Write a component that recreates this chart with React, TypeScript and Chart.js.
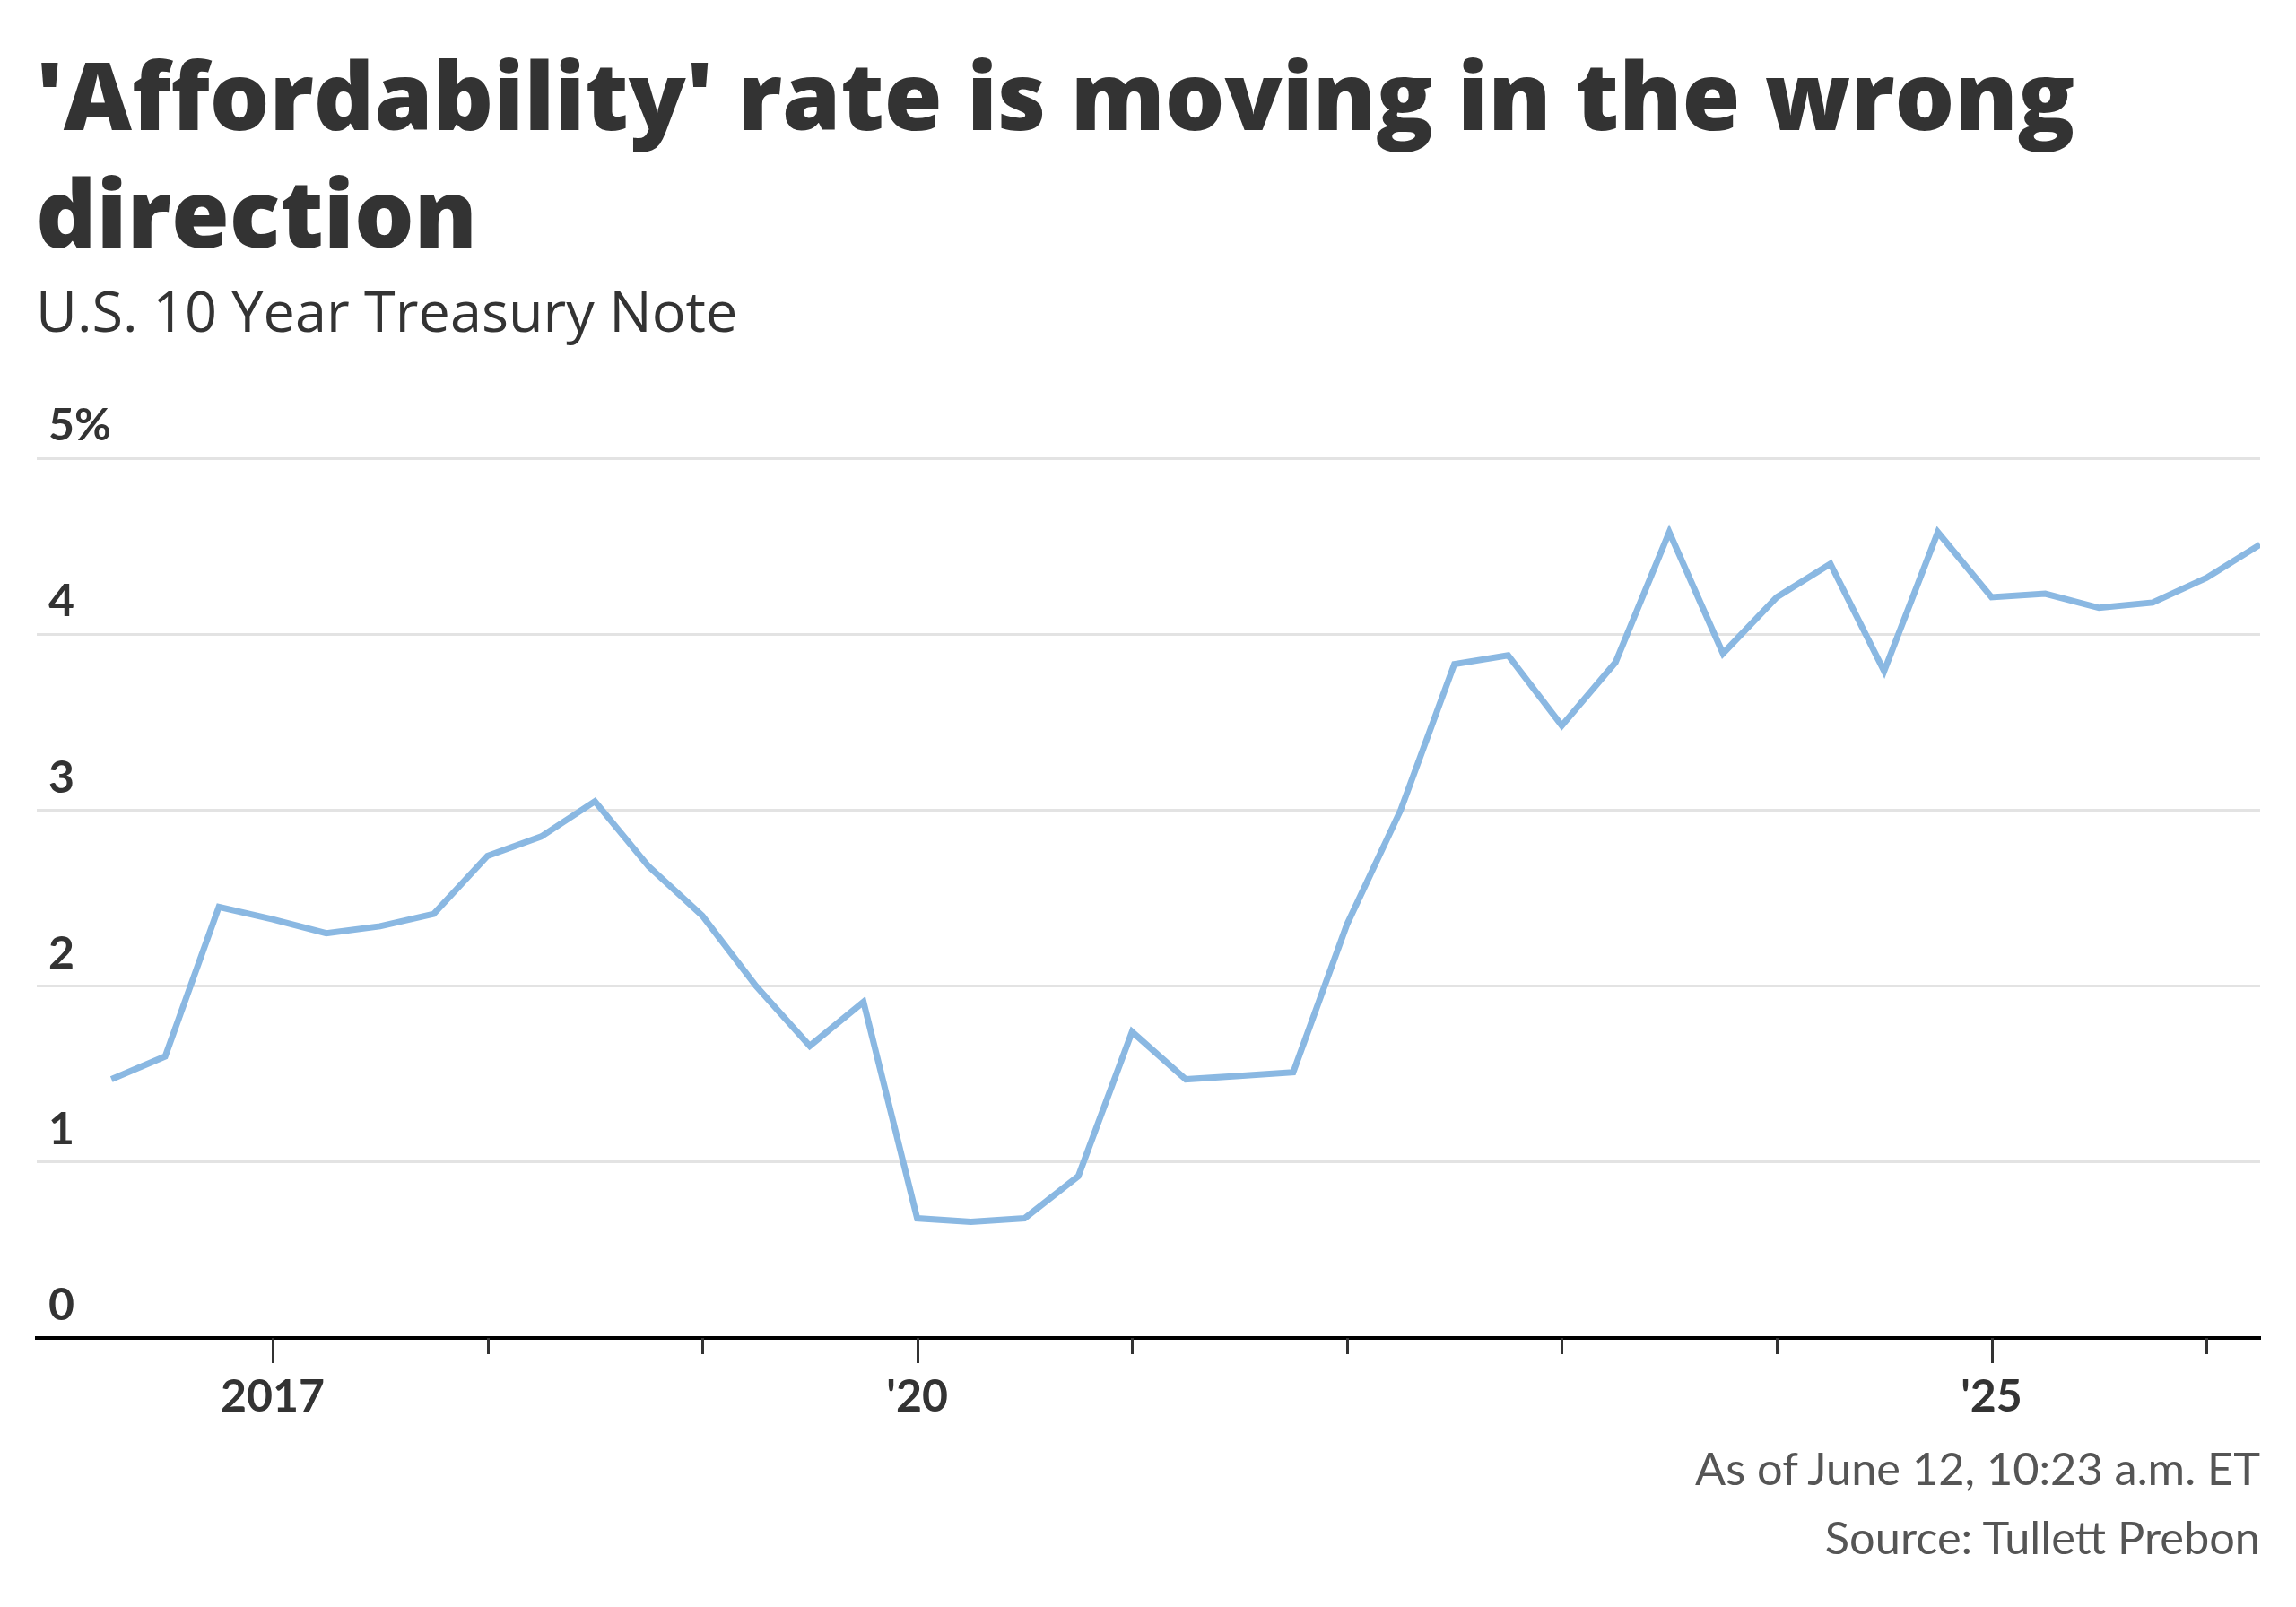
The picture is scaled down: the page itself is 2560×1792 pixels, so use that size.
import React, { useEffect, useRef } from 'react';
import { Chart, registerables } from 'chart.js';

Chart.register(...registerables);

// Quarter-end observations (U.S. 10-year Treasury yield, %)
const quarters: string[] = [
  'Jun 2016', 'Sep 2016', 'Dec 2016',
  'Mar 2017', 'Jun 2017', 'Sep 2017', 'Dec 2017',
  'Mar 2018', 'Jun 2018', 'Sep 2018', 'Dec 2018',
  'Mar 2019', 'Jun 2019', 'Sep 2019', 'Dec 2019',
  'Mar 2020', 'Jun 2020', 'Sep 2020', 'Dec 2020',
  'Mar 2021', 'Jun 2021', 'Sep 2021', 'Dec 2021',
  'Mar 2022', 'Jun 2022', 'Sep 2022', 'Dec 2022',
  'Mar 2023', 'Jun 2023', 'Sep 2023', 'Dec 2023',
  'Mar 2024', 'Jun 2024', 'Sep 2024', 'Dec 2024',
  'Mar 2025', 'Jun 2025', 'Sep 2025', 'Dec 2025',
  'Mar 2026', 'Jun 2026',
];

const yields: number[] = [
  1.47, 1.60, 2.45,
  2.38, 2.30, 2.34, 2.41,
  2.74, 2.85, 3.05, 2.68,
  2.40, 2.00, 1.66, 1.91,
  0.68, 0.66, 0.68, 0.92,
  1.74, 1.47, 1.49, 1.51,
  2.35, 3.00, 3.83, 3.88,
  3.48, 3.84, 4.58, 3.89,
  4.21, 4.40, 3.79, 4.58,
  4.21, 4.23, 4.15, 4.18,
  4.32, 4.51,
];

// x-axis ticks: positions (as quarter index) and labels
const xTickIndex: number[] = [3, 7, 11, 15, 19, 23, 27, 31, 35, 39];
const xTickLabels: string[] = ['2017', '', '', "'20", '', '', '', '', "'25", ''];

// y-axis ticks
const yTicks: number[] = [0, 1, 2, 3, 4, 5];
const yTickLabels: string[] = ['0', '1', '2', '3', '4', '5%'];

const TITLE_LINES: string[] = ["'Affordability' rate is moving in the wrong", 'direction'];
const SUBTITLE = 'U.S. 10 Year Treasury Note';
const NOTE = 'As of June 12, 10:23 a.m. ET';
const SOURCE = 'Source: Tullett Prebon';

const FONT = "Lato, 'Noto Sans', sans-serif";
const HEAD_FONT = "'Open Sans', Lato, sans-serif";

const tickMarks = {
  id: 'tickMarks',
  afterDraw(chart: any) {
    const s = chart.scales.x;
    const ctx = chart.ctx;
    const y0 = chart.chartArea.bottom;
    ctx.save();
    ctx.strokeStyle = '#333333';
    ctx.lineWidth = 3;
    xTickIndex.forEach((v, i) => {
      const px = Math.round(s.getPixelForValue(v)) + 0.5;
      const len = xTickLabels[i] ? 28 : 18;
      ctx.beginPath();
      ctx.moveTo(px, y0);
      ctx.lineTo(px, y0 + len);
      ctx.stroke();
    });
    ctx.restore();
  },
};

export default function App() {
  const canvasRef = useRef<HTMLCanvasElement | null>(null);

  useEffect(() => {
    document.body.style.margin = '0';
    const canvas = canvasRef.current;
    if (!canvas) return;
    const chart = new Chart(canvas, {
      type: 'line',
      data: {
        labels: quarters,
        datasets: [
          {
            label: '10-year yield',
            data: yields.map((y, i) => ({ x: i, y })),
            borderColor: '#8ab8e2',
            borderWidth: 7,
            pointRadius: 0,
            tension: 0,
            fill: false,
            borderJoinStyle: 'miter',
          },
        ],
      },
      options: {
        animation: false,
        responsive: false,
        devicePixelRatio: 1,
        events: [],
        layout: { padding: { left: 41, right: 40, top: 511, bottom: 200 } },
        plugins: { legend: { display: false }, tooltip: { enabled: false } },
        scales: {
          x: {
            type: 'linear',
            min: -1.39,
            max: 40,
            afterBuildTicks: (scale: any) => {
              scale.ticks = xTickIndex.map((v) => ({ value: v }));
            },
            afterFit: (scale: any) => {
              scale.height = 100;
            },
            grid: { display: false, drawTicks: false },
            border: { display: true, color: '#000000', width: 4 },
            ticks: {
              autoSkip: false,
              maxRotation: 0,
              padding: 36,
              color: '#333333',
              font: { family: FONT, size: 50, weight: 'bold' },
              callback: (_v: any, index: number) => xTickLabels[index] ?? '',
            },
          },
          y: {
            type: 'linear',
            min: 0,
            max: 5,
            afterBuildTicks: (scale: any) => {
              scale.ticks = yTicks.map((v) => ({ value: v }));
            },
            afterFit: (scale: any) => {
              scale.width = 0;
            },
            grid: {
              drawTicks: false,
              color: '#e3e3e3',
              lineWidth: 3,
            },
            border: { display: false },
            ticks: {
              mirror: true,
              padding: 13,
              labelOffset: -36,
              color: '#333333',
              font: { family: FONT, size: 50, weight: 'bold' },
              callback: (_v: any, index: number) => yTickLabels[index] ?? '',
            },
          },
        },
      },
      plugins: [tickMarks],
    });
    return () => chart.destroy();
  }, []);

  return (
    <div style={{ position: 'relative', width: 2560, height: 1792, background: '#ffffff', overflow: 'hidden' }}>
      <div
        style={{
          position: 'absolute',
          left: 40,
          top: 39,
          fontFamily: HEAD_FONT,
          fontWeight: 800,
          fontSize: 105,
          lineHeight: '131px',
          color: '#333333',
          whiteSpace: 'nowrap',
        }}
      >
        {TITLE_LINES.map((l, i) => (
          <div key={i}>{l}</div>
        ))}
      </div>
      <div
        style={{
          position: 'absolute',
          left: 40,
          top: 309,
          fontFamily: HEAD_FONT,
          fontWeight: 400,
          fontSize: 63,
          lineHeight: '74px',
          color: '#333333',
          whiteSpace: 'nowrap',
        }}
      >
        {SUBTITLE}
      </div>
      <canvas
        ref={canvasRef}
        width={2560}
        height={1792}
        style={{ position: 'absolute', left: 0, top: 0, width: 2560, height: 1792 }}
      />
      <div
        style={{
          position: 'absolute',
          right: 40,
          top: 1598,
          fontFamily: FONT,
          fontWeight: 400,
          fontSize: 50.5,
          lineHeight: '77px',
          color: '#555555',
          textAlign: 'right',
          whiteSpace: 'nowrap',
        }}
      >
        <div>{NOTE}</div>
        <div>{SOURCE}</div>
      </div>
    </div>
  );
}
